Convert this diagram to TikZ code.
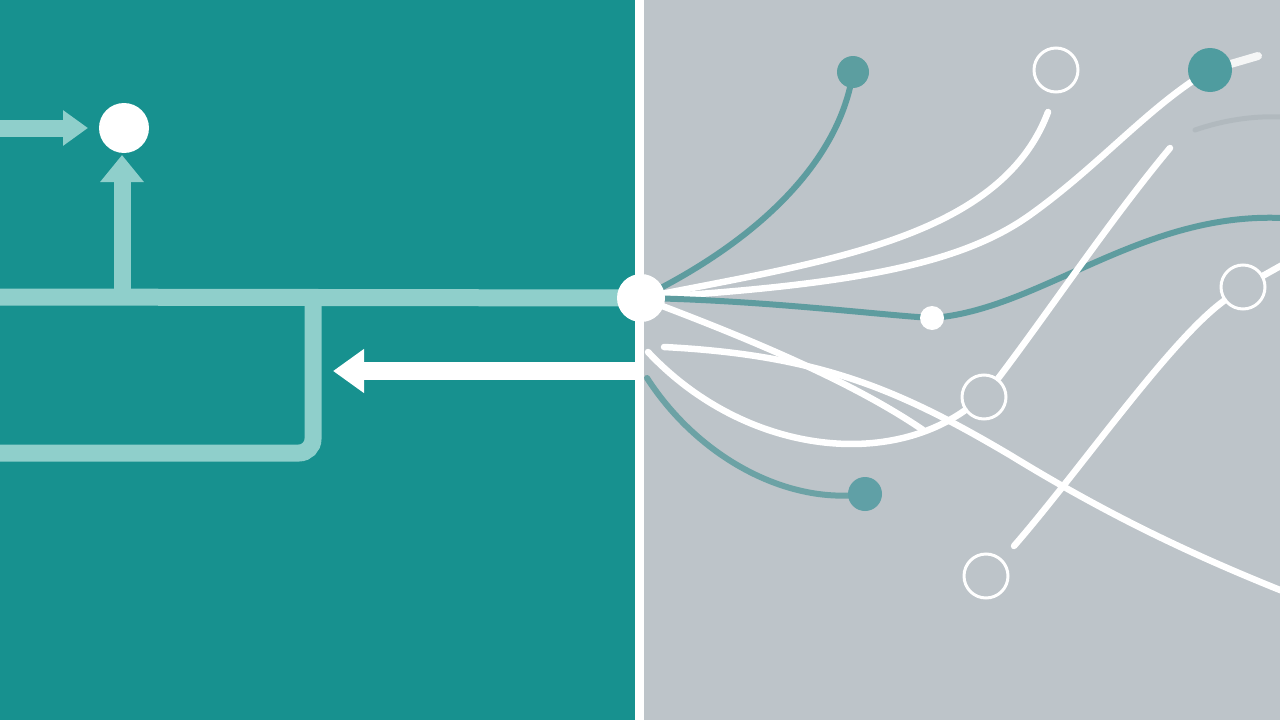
\documentclass[tikz,border=0pt]{standalone}
\usetikzlibrary{arrows.meta}
\definecolor{tealbg}{HTML}{17918F}
\definecolor{graybg}{HTML}{BDC4C9}
\definecolor{ltteal}{HTML}{8FCFCB}
\definecolor{dkteal}{HTML}{5E9C9F}
\definecolor{dotA}{HTML}{5C9EA0}
\definecolor{dotD}{HTML}{4F9C9F}
\definecolor{dotK}{HTML}{60A0A6}
\definecolor{ghost}{HTML}{A9B3B8}
\pgfdeclarelayer{back}
\pgfdeclarelayer{mid}
\pgfsetlayers{back,mid,main}
\begin{document}
\begin{tikzpicture}[x=1pt,y=-1pt,
  wline/.style={draw=white,line width=6.5pt,line cap=round},
  tline/.style={draw=dkteal,line width=6pt,line cap=round},
  ring/.style={circle,draw=white,line width=3pt,minimum size=44pt,inner sep=0pt},
  tdot/.style={circle,inner sep=0pt},
  wdot/.style={circle,fill=white,inner sep=0pt},
  lbar/.style={draw=ltteal,line width=17pt},
]
\useasboundingbox (0,0) rectangle (1280,720);
\begin{pgfonlayer}{back}
  \fill[tealbg] (0,0) rectangle (639,720);
  \fill[graybg] (639,0) rectangle (1280,720);
\end{pgfonlayer}

% nodes
\node[wdot,minimum size=50pt] (tlc) at (124,128) {};
\node[wdot,minimum size=48pt] (hub) at (641,298) {};
\node[tdot,fill=dotA,minimum size=32pt] (dA) at (853,72) {};
\node[ring] (rB) at (1056,70) {};
\node[tdot,fill=dotD,minimum size=44pt] (dD) at (1210,70) {};
\node[wdot,minimum size=24pt] (wG) at (932,318) {};
\node[ring] (rF) at (984,397) {};
\node[ring] (rH) at (1243,287) {};
\node[ring] (rL) at (986,576) {};
\node[tdot,fill=dotK,minimum size=34pt] (dK) at (865,494) {};

% free ends
\coordinate (hl0) at (0,297);
\coordinate (vb0) at (122,297);
\coordinate (vtip) at (122,155);
\coordinate (ha0) at (0,128);
\coordinate (htip) at (88,128);
\coordinate (wa0) at (639,371);
\coordinate (watip) at (333,371);
\coordinate (cEnd) at (1048,112);
\coordinate (eEnd) at (1170,148);
\coordinate (dStub) at (1258,56);
\coordinate (gEnd) at (1282,218);
\coordinate (fStart) at (648,352);
\coordinate (kStart) at (647,378);
\coordinate (iStart) at (664,347);
\coordinate (iMid) at (1010,455);
\coordinate (iEnd) at (1285,592);
\coordinate (jEnd) at (923,430);
\coordinate (hStart) at (1014,546);
\coordinate (hStub) at (1284,264);

\begin{pgfonlayer}{mid}
  % left panel
  \draw[lbar] (hl0) -- (hub.center);
  \draw[lbar,-{Triangle[length=27pt,width=42pt]}] (vb0) -- (vtip);
  \draw[lbar,-{Triangle[length=25pt,width=34pt]}] (ha0) -- (htip);
  \draw[lbar,rounded corners=14pt] (313,297) -- (313,453) -- (0,453);
  \draw[white,line width=18pt,-{Triangle[length=31pt,width=42pt]}] (wa0) -- (watip);
  % right panel
  \draw[line width=5pt,draw=ghost,opacity=0.6,line cap=round] (1195,130) .. controls (1230,118) and (1260,116) .. (1282,117);
  \draw[tline] (hub.center) .. controls (760,240) and (840,160) .. (dA.center);
  \draw[wline] (hub.center) .. controls (820,262) and (1000,240) .. (cEnd);
  \draw[wline] (hub.center) .. controls (850,285) and (960,265) .. (1030,215)
                .. controls (1100,165) and (1150,105) .. (dD.center);
  \draw[white,line width=8pt,line cap=round,opacity=0.85] (dD.center) -- (dStub);
  \draw[tline] (hub.center) .. controls (760,300) and (880,315) .. (wG.center);
  \draw[tline] (wG.center) .. controls (1040,310) and (1140,212) .. (gEnd);
  \draw[wline] (hub.center) .. controls (740,335) and (850,380) .. (jEnd);
  \draw[wline] (iStart) .. controls (820,355) and (900,390) .. (iMid)
                .. controls (1100,510) and (1180,550) .. (iEnd);
  \draw[wline] (fStart) .. controls (740,450) and (880,470) .. (rF);
  \draw[wline] (rF) .. controls (1050,310) and (1110,220) .. (eEnd);
  \draw[wline] (hStart) .. controls (1080,470) and (1170,340) .. (rH);
  \draw[wline] (rH) -- (hStub);
  \draw[draw=dkteal!85!graybg,line width=6pt,line cap=round] (kStart) .. controls (700,460) and (790,505) .. (dK.center);
  \draw[white,line width=9pt] (639,0) -- (639,720);
\end{pgfonlayer}
\end{tikzpicture}
\end{document}
